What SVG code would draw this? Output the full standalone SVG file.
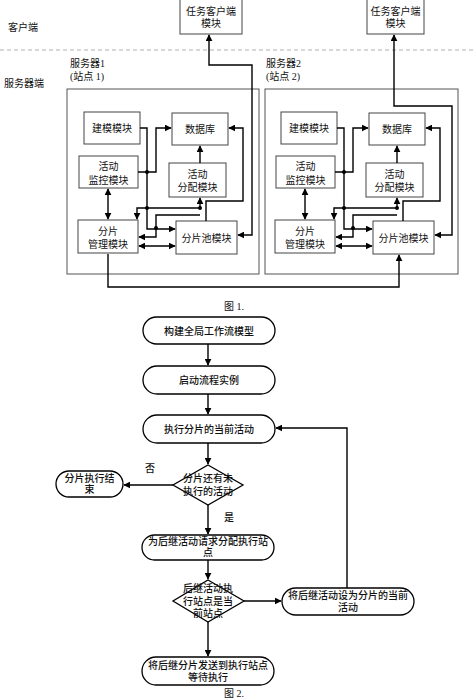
<svg xmlns="http://www.w3.org/2000/svg" width="474" height="699" viewBox="0 0 474 699">
<defs>
<marker id="ah" viewBox="0 0 10 10" refX="9" refY="5" markerWidth="7" markerHeight="7" markerUnits="userSpaceOnUse" orient="auto-start-reverse">
<path d="M0,0 L10,5 L0,10 z" fill="#000"/>
</marker>
<style>
text{font-family:"Liberation Serif","Noto Sans CJK SC",serif;font-size:10px;fill:#111;text-anchor:middle}
.lbl{text-anchor:start}
.box{fill:#fff;stroke:#444;stroke-width:1}
.frame{fill:none;stroke:#555;stroke-width:1}
.c{fill:none;stroke:#000;stroke-width:1.4}
.a{marker-end:url(#ah)}
.b{marker-start:url(#ah);marker-end:url(#ah)}
.dot{fill:#000}
.fc{fill:#fff;stroke:#000;stroke-width:1.3}
.ft{font-weight:500}
</style>
</defs>
<rect width="474" height="699" fill="#fff"/>

<g id="zones">
<text class="lbl" x="8" y="31">客户端</text>
<text class="lbl" x="4" y="87">服务器端</text>
<line x1="0" y1="50" x2="474" y2="50" stroke="#999" stroke-width="0.8" stroke-dasharray="4,3"/>
</g>

<g id="client1">
<rect class="box" x="180" y="-1" width="62" height="35"/>
<text x="211" y="15">任务客户端</text>
<text x="211" y="27">模块</text>
</g>
<g id="client2">
<rect class="box" x="367" y="-1" width="57" height="35"/>
<text x="395.5" y="15">任务客户端</text>
<text x="395.5" y="27">模块</text>
</g>

<g id="server1">
<text class="lbl" x="70" y="67">服务器1</text>
<text class="lbl" x="70" y="80">(站点 1)</text>
<rect class="frame" x="67" y="89" width="192" height="185"/>
<g id="s1-modeling"><rect class="box" x="84" y="112" width="56" height="32"/><text x="112" y="132">建模模块</text></g>
<g id="s1-db"><rect class="box" x="172" y="113" width="56" height="32"/><text x="200" y="133">数据库</text></g>
<g id="s1-monitor"><rect class="box" x="79" y="156" width="59" height="32"/><text x="108.5" y="170">活动</text><text x="108.5" y="184">监控模块</text></g>
<g id="s1-alloc"><rect class="box" x="169" y="163" width="57" height="34"/><text x="197.5" y="178">活动</text><text x="197.5" y="191">分配模块</text></g>
<g id="s1-manage"><rect class="box" x="78" y="220" width="60" height="33"/><text x="108" y="235">分片</text><text x="108" y="248">管理模块</text></g>
<g id="s1-pool"><rect class="box" x="176" y="221" width="61" height="33"/><text x="206.5" y="242">分片池模块</text></g>
</g>

<g id="server2">
<text class="lbl" x="266" y="67">服务器2</text>
<text class="lbl" x="266" y="80">(站点 2)</text>
<g transform="translate(197,0)">
<rect class="frame" x="68" y="89" width="193" height="185"/>
<g id="s2-modeling"><rect class="box" x="84" y="112" width="56" height="32"/><text x="112" y="132">建模模块</text></g>
<g id="s2-db"><rect class="box" x="172" y="113" width="56" height="32"/><text x="200" y="133">数据库</text></g>
<g id="s2-monitor"><rect class="box" x="79" y="156" width="59" height="32"/><text x="108.5" y="170">活动</text><text x="108.5" y="184">监控模块</text></g>
<g id="s2-alloc"><rect class="box" x="169" y="163" width="57" height="34"/><text x="197.5" y="178">活动</text><text x="197.5" y="191">分配模块</text></g>
<g id="s2-manage"><rect class="box" x="78" y="220" width="60" height="33"/><text x="108" y="235">分片</text><text x="108" y="248">管理模块</text></g>
<g id="s2-pool"><rect class="box" x="176" y="221" width="61" height="33"/><text x="206.5" y="242">分片池模块</text></g>
</g>
</g>

<g id="connectors">
<g id="s1-connectors">
<path class="c a" d="M140,128 H147 V229 H175"/>
<path class="c a" d="M138,172 H156 V128 H171"/>
<path class="c a" d="M200,163 V146"/>
<path class="c b" d="M108,189 V219"/>
<path class="c b" d="M137,219 V208 H200 V198"/>
<path class="c a" d="M200,215 H156 V237 H139"/>
<path class="c b" d="M139,246 H175"/>
<path class="c a" d="M206,221 V201 H243 V128 H229"/>
<circle class="dot" cx="147" cy="172" r="2"/>
<circle class="dot" cx="147" cy="208" r="2"/>
<circle class="dot" cx="200" cy="208" r="2"/>
<circle class="dot" cx="156" cy="228" r="2"/>
</g>
<g id="s2-connectors" transform="translate(197,0)">
<path class="c a" d="M140,128 H147 V229 H175"/>
<path class="c a" d="M138,172 H156 V128 H171"/>
<path class="c a" d="M200,163 V146"/>
<path class="c b" d="M108,189 V219"/>
<path class="c b" d="M137,219 V208 H200 V198"/>
<path class="c a" d="M200,215 H156 V237 H139"/>
<path class="c b" d="M139,246 H175"/>
<path class="c a" d="M206,221 V201 H243 V128 H229"/>
<circle class="dot" cx="147" cy="172" r="2"/>
<circle class="dot" cx="147" cy="208" r="2"/>
<circle class="dot" cx="200" cy="208" r="2"/>
<circle class="dot" cx="156" cy="228" r="2"/>
</g>
<path class="c b" d="M209,35 V65 H252 V235 H238"/>
<path class="c b" d="M394,35 V106 H452 V235 H435"/>
<path class="c a" d="M108,254 V287 H399 V255"/>

<g id="flow-connectors">
<path class="c a" d="M208,344 V365"/>
<path class="c a" d="M208,394 V414"/>
<path class="c a" d="M208,443 V464"/>
<path class="c a" d="M173,485 H124"/>
<path class="c a" d="M208,505 V534"/>
<path class="c a" d="M208,560 V579"/>
<path class="c a" d="M244,601 H281"/>
<path class="c a" d="M208,622 V656"/>
<path class="c a" d="M347,588 V428 H276"/>
</g>
</g>

<text id="fig1" x="234" y="310">图 1.</text>

<g id="f-build"><rect class="fc" x="143" y="317" width="132" height="27" rx="13.5"/><text class="ft" x="209" y="335">构建全局工作流模型</text></g>
<g id="f-start"><rect class="fc" x="143" y="366" width="132" height="28" rx="14"/><text class="ft" x="209" y="384">启动流程实例</text></g>
<g id="f-exec"><rect class="fc" x="143" y="415" width="132" height="28" rx="14"/><text class="ft" x="209" y="433">执行分片的当前活动</text></g>
<g id="f-more"><polygon class="fc" points="208,465 243,485 208,505 173,485"/><text class="ft" x="208" y="482">分片还有未</text><text class="ft" x="208" y="495">执行的活动</text></g>
<text class="ft" x="150" y="472">否</text>
<text class="ft" x="229" y="521">是</text>
<g id="f-end"><rect class="fc" x="56" y="471" width="67" height="26" rx="13"/><text class="ft" x="89.5" y="482">分片执行结</text><text class="ft" x="89.5" y="493">束</text></g>
<g id="f-request"><rect class="fc" x="142" y="535" width="132" height="25" rx="12.5"/><text class="ft" x="208" y="545">为后继活动请求分配执行站</text><text class="ft" x="208" y="556">点</text></g>
<g id="f-local"><polygon class="fc" points="208,580 244,601 208,622 173,601"/><text class="ft" x="208" y="592">后继活动执</text><text class="ft" x="208" y="605">行站点是当</text><text class="ft" x="208" y="617">前站点</text></g>
<g id="f-setcur"><rect class="fc" x="282" y="588" width="132" height="27" rx="13.5"/><text class="ft" x="348" y="599">将后继活动设为分片的当前</text><text class="ft" x="348" y="611">活动</text></g>
<g id="f-send"><rect class="fc" x="142" y="657" width="132" height="28" rx="14"/><text class="ft" x="208" y="669">将后继分片发送到执行站点</text><text class="ft" x="208" y="681">等待执行</text></g>
<text id="fig2" x="234" y="697">图 2.</text>
</svg>
